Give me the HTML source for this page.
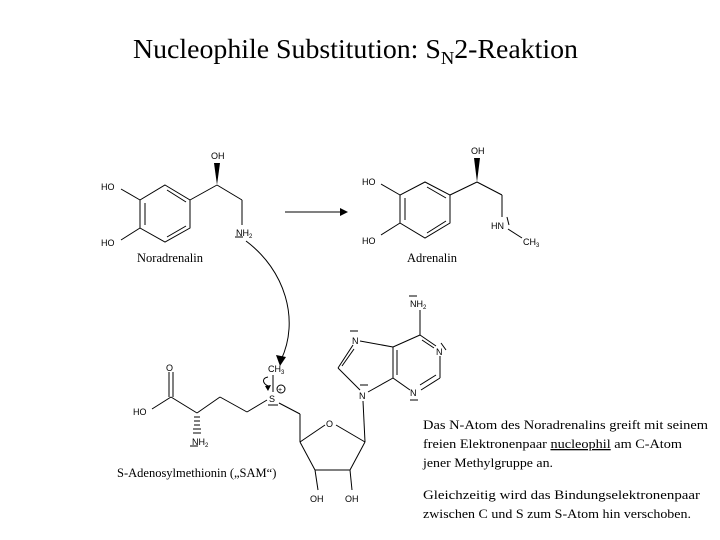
<!DOCTYPE html>
<html><head><meta charset="utf-8"><style>
body{margin:0;background:#fff;width:720px;height:540px;overflow:hidden}
svg{position:absolute;left:0;top:0}
.t{font-family:"Liberation Serif",serif}
.s{font-family:"Liberation Sans",sans-serif;font-size:9px}
</style></head><body>
<svg width="720" height="540" viewBox="0 0 720 540">
<text class="t" x="133" y="58" font-size="27" textLength="445" lengthAdjust="spacingAndGlyphs">Nucleophile Substitution: S<tspan font-size="18" dy="6">N</tspan><tspan dy="-6">2-Reaktion</tspan></text>
<g stroke="#000" stroke-width="1" fill="none">
<polygon points="165,185 190,200 190,228 165,242 140,228 140,200"/>
<line x1="145" y1="203" x2="145" y2="225"/><line x1="167" y1="190" x2="186" y2="202"/><line x1="167" y1="237" x2="186" y2="226"/>
<line x1="140" y1="200" x2="121" y2="189"/><line x1="140" y1="228" x2="121" y2="240"/>
<line x1="190" y1="200" x2="217" y2="185"/><line x1="217" y1="185" x2="242" y2="200"/><line x1="242" y1="200" x2="242" y2="225"/>
<line x1="235" y1="237" x2="243" y2="237"/>
<line x1="285" y1="212" x2="340" y2="212"/>
<polygon points="425,182 450,195 450,223 425,238 400,223 400,195"/>
<line x1="405" y1="198" x2="405" y2="220"/><line x1="427" y1="187" x2="446" y2="198"/><line x1="427" y1="233" x2="446" y2="221"/>
<line x1="400" y1="195" x2="381" y2="184"/><line x1="400" y1="223" x2="381" y2="235"/>
<line x1="450" y1="195" x2="477" y2="182"/><line x1="477" y1="182" x2="502" y2="195"/><line x1="502" y1="195" x2="502" y2="217"/>
<line x1="508" y1="229" x2="522" y2="238"/><line x1="507" y1="217" x2="509" y2="225"/>
<path d="M246,241 C285,270 300,320 281,360"/>
<line x1="169" y1="372" x2="169" y2="397"/><line x1="173" y1="372" x2="173" y2="397"/>
<line x1="171" y1="397" x2="152" y2="409"/><line x1="171" y1="397" x2="197" y2="413"/>
<line x1="197" y1="413" x2="220" y2="397"/><line x1="220" y1="397" x2="247" y2="412"/><line x1="247" y1="412" x2="267" y2="400"/>
<line x1="273" y1="392" x2="273" y2="375"/><line x1="279" y1="403" x2="300" y2="414"/>
<line x1="268" y1="405" x2="278" y2="405"/>
<path d="M268,386 C262,383 262,378 268,377"/>
<circle cx="281" cy="389" r="4"/>
<line x1="300" y1="414" x2="300" y2="442"/>
<line x1="300" y1="442" x2="325" y2="425"/><line x1="336" y1="425" x2="365" y2="442"/>
<line x1="365" y1="442" x2="350" y2="470"/><line x1="350" y1="470" x2="315" y2="470"/><line x1="315" y1="470" x2="300" y2="442"/>
<line x1="315" y1="470" x2="318" y2="490"/><line x1="350" y1="470" x2="352" y2="490"/>
<line x1="365" y1="442" x2="363" y2="401"/>
<line x1="360" y1="390" x2="338" y2="368"/><line x1="338" y1="368" x2="353" y2="345"/><line x1="342" y1="366" x2="354" y2="349"/>
<line x1="360" y1="341" x2="393" y2="347"/><line x1="393" y1="347" x2="393" y2="378"/><line x1="397" y1="350" x2="397" y2="375"/>
<line x1="393" y1="378" x2="368" y2="392"/>
<line x1="393" y1="347" x2="420" y2="335"/><line x1="420" y1="335" x2="420" y2="310"/>
<line x1="420" y1="335" x2="436" y2="346"/><line x1="422" y1="340" x2="434" y2="348"/>
<line x1="440" y1="356" x2="440" y2="378"/><line x1="440" y1="378" x2="421" y2="390"/><line x1="436" y1="375" x2="420" y2="385"/>
<line x1="393" y1="378" x2="410" y2="390"/>
<line x1="409" y1="296" x2="417" y2="296"/><line x1="350" y1="331" x2="358" y2="331"/><line x1="441" y1="343" x2="446" y2="350"/>
<line x1="360" y1="385" x2="368" y2="385"/><line x1="410" y1="400" x2="418" y2="400"/><line x1="190" y1="446" x2="198" y2="446"/>
</g>
<polygon points="217,185 214,163 220,163" fill="#000"/>
<polygon points="477,182 474,158 480,158" fill="#000"/>
<polygon points="340,208 348,212 340,216" fill="#000"/>
<polygon points="276,355 286,357 280,366" fill="#000"/>
<polygon points="265,386 271,385 268,391" fill="#000"/>
<g stroke="#000" stroke-width="1">
<line x1="194" y1="417" x2="200" y2="417"/><line x1="194" y1="421" x2="200" y2="421"/><line x1="194" y1="425" x2="200" y2="425"/><line x1="193" y1="429" x2="201" y2="429"/><line x1="193" y1="433" x2="201" y2="433"/>
</g>
<g class="s">
<text x="211" y="159">OH</text><text x="101" y="190">HO</text><text x="101" y="246">HO</text><text x="236" y="236">NH<tspan font-size="6" dy="2">2</tspan></text>
<text x="471" y="154">OH</text><text x="362" y="185">HO</text><text x="362" y="244">HO</text><text x="491" y="229">HN</text><text x="523" y="245">CH<tspan font-size="6" dy="2">3</tspan></text>
<text x="166" y="371">O</text><text x="133" y="415">HO</text><text x="192" y="445">NH<tspan font-size="6" dy="2">2</tspan></text>
<text x="268" y="372">CH<tspan font-size="6" dy="2">3</tspan></text><text x="269" y="402">S</text>
<text x="278" y="392" font-size="7">+</text>
<text x="326" y="427">O</text><text x="310" y="502">OH</text><text x="345" y="502">OH</text>
<text x="410" y="307">NH<tspan font-size="6" dy="2">2</tspan></text>
<text x="352" y="344">N</text><text x="436" y="355">N</text><text x="410" y="396">N</text><text x="359" y="399">N</text>
</g>
<g class="t" font-size="12.5">
<text x="137" y="262">Noradrenalin</text><text x="407" y="262">Adrenalin</text>
<text x="117" y="477">S-Adenosylmethionin („SAM“)</text>
</g>
<g class="t" font-size="13">
<text x="423" y="429" textLength="285" lengthAdjust="spacingAndGlyphs">Das N-Atom des Noradrenalins greift mit seinem</text>
<text x="423" y="448" textLength="259" lengthAdjust="spacingAndGlyphs">freien Elektronenpaar <tspan text-decoration="underline">nucleophil</tspan> am C-Atom</text>
<text x="423" y="467" textLength="130" lengthAdjust="spacingAndGlyphs">jener Methylgruppe an.</text>
<text x="423" y="499" textLength="277" lengthAdjust="spacingAndGlyphs">Gleichzeitig wird das Bindungselektronenpaar</text>
<text x="423" y="518" textLength="268" lengthAdjust="spacingAndGlyphs">zwischen C und S zum S-Atom hin verschoben.</text>
</g>
</svg>
</body></html>
